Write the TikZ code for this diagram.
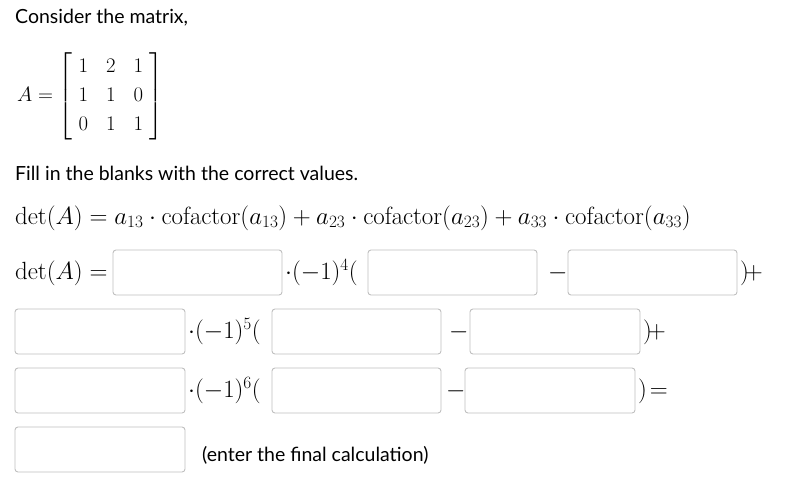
\documentclass[tikz,border=0pt]{standalone}
\usepackage{amsmath}
\usepackage[no-math]{fontspec}
\setmainfont{Lato}
\begin{document}
\begin{tikzpicture}[x=1pt,y=-1pt,
  blank/.style={draw=black!25,rounded corners=3pt,line width=0.9pt},
  txt/.style={anchor=west,inner sep=0pt,font=\fontsize{19.5}{22}\selectfont},
  mth/.style={anchor=west,inner sep=0pt,font=\fontsize{24.5}{28}\selectfont}]
\useasboundingbox (0,0) rectangle (789,488);
\node[txt] (t1) at (15,18) {Consider the matrix,};
\node[mth,font=\fontsize{20}{29}\selectfont] (A) at (17,96) {\setlength\arraycolsep{9pt}$A=\left[\begin{array}{@{\hspace{6pt}}ccc@{\hspace{6pt}}}1&2&1\\1&1&0\\0&1&1\end{array}\right]$};
\node[txt] (t2) at (15,173) {Fill in the blanks with the correct values.};
\node[mth] (f) at (15,218) {$\det(A)=a_{13}\cdot\mathrm{cofactor}(a_{13})+a_{23}\cdot\mathrm{cofactor}(a_{23})+a_{33}\cdot\mathrm{cofactor}(a_{33})$};
% row 1
\node[mth] (d) at (15,273) {$\det(A)=$};
\draw[blank] (113,250) rectangle (282,295);
\node[mth] (p1) at (285,273) {$\cdot(-1)^4($};
\draw[blank] (368,250) rectangle (537,295);
\node[mth] (m1) at (548,273) {$-$};
\draw[blank] (568,250) rectangle (737,295);
\node[mth] (e1) at (740,273) {$)\!+$};
% row 2
\draw[blank] (15,309) rectangle (185,354);
\node[mth] (p2) at (188,332) {$\cdot(-1)^5($};
\draw[blank] (272,309) rectangle (441,354);
\node[mth] (m2) at (449,332) {$-$};
\draw[blank] (470,309) rectangle (640,354);
\node[mth] (e2) at (643,332) {$)\!+$};
% row 3
\draw[blank] (15,368) rectangle (185,413);
\node[mth] (p3) at (188,391) {$\cdot(-1)^6($};
\draw[blank] (272,368) rectangle (441,413);
\node[mth] (m3) at (446,391) {$-$};
\draw[blank] (465,368) rectangle (635,413);
\node[mth] (e3) at (638,391) {$)\!=$};
% row 4
\draw[blank] (15,427) rectangle (185,472);
\node[txt] (t3) at (202,455) {(enter the final calculation)};
\end{tikzpicture}
\end{document}
